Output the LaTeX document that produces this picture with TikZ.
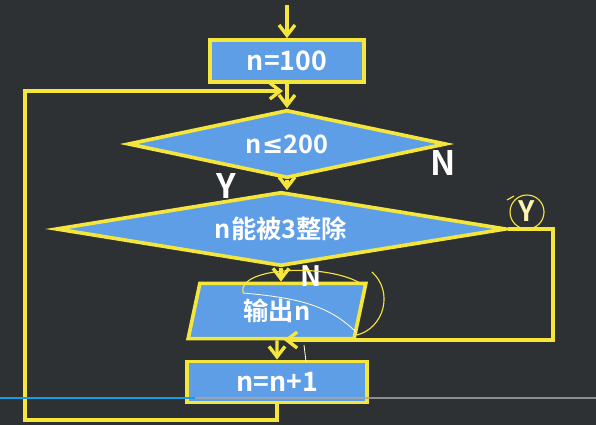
\documentclass[tikz,border=0pt]{standalone}
\usepackage{fontspec}
\setmainfont{Noto Sans CJK SC}[BoldFont={Noto Sans CJK SC Bold}]
\newfontfamily\mathsym{DejaVu Sans}
\usetikzlibrary{arrows.meta,shapes.geometric}
\definecolor{bgdark}{HTML}{2E3133}
\definecolor{boxblue}{HTML}{5E9EE6}
\definecolor{lineyellow}{HTML}{F5E63C}
\definecolor{barblue}{HTML}{1A9BE6}
\tikzset{
	flow/.style={line width=2.4pt, color=lineyellow, -{Straight Barb[length=2.6mm,width=4mm]}},
	procbox/.style={draw=lineyellow, line width=2.6pt, fill=boxblue, text=white, inner sep=0pt, font=\bfseries\fontsize{19}{22}\selectfont, minimum width=3.85cm, minimum height=1.05cm},
	decbox/.style={diamond, draw=lineyellow, line width=2.6pt, fill=boxblue, text=white, inner sep=0pt, font=\bfseries\fontsize{18}{22}\selectfont},
	iobox/.style={trapezium, trapezium left angle=78, trapezium right angle=102, draw=lineyellow, line width=2.6pt, fill=boxblue, text=white, inner sep=0pt, font=\bfseries\fontsize{18}{22}\selectfont, minimum width=4.45cm, minimum height=1.07cm},
	lbl/.style={text=white, font=\bfseries\fontsize{24}{26}\selectfont},
	scribble/.style={line width=0.8pt, color=lineyellow}
}

\begin{document}
\begin{tikzpicture}[x=0.025cm, y=-0.025cm]
			%%%%% START %%%%%
			
			\useasboundingbox (0, 0) rectangle (596, 425);
			\fill[bgdark] (0, 0) rectangle (596, 425);
			
			\coordinate (top) at (287, 5);
			\node[procbox] (init) at (287, 61) {n=100};
			\node[decbox, aspect=4.7, minimum width=7.95cm, minimum height=1.7cm] (le200) at (287, 144) {n{\mathsym ≤}200};
			\node[decbox, aspect=6.2, minimum width=11.25cm, minimum height=1.85cm] (div3) at (281, 229) {n能被3整除};
			\node[iobox] (out) at (277, 311) {输出n};
			\node[procbox, minimum width=4.5cm, minimum height=1.03cm] (inc) at (277, 382) {n=n+1};
			
			\coordinate (merge) at (284, 340);
			\coordinate (back) at (25, 420);
			\coordinate (join) at (283, 91);
			
			\draw[flow] (top) -- (init.north);
			\draw[flow] (init.south) -- (le200.north);
			\draw[flow] (le200.south) -- (le200.south |- div3.north);
			\draw[flow] (div3.south) -- (div3.south |- out.north);
			\draw[flow] (out.south) -- (inc.north);
			\draw[flow] (div3.east) -- ++(45, 0) |- (merge);
			\draw[flow] (inc.south) |- (back) |- (join);
			
			\node[lbl] (nolbl) at (443, 163) {N};
			\node[lbl] (yeslbl) at (226, 186) {Y};
			\node[lbl, font=\bfseries\fontsize{20}{22}\selectfont] (nolbl2) at (311, 276) {N};
			\node[lbl, text=lineyellow!40!white, font=\bfseries\fontsize{20}{22}\selectfont] (yeslbl2) at (527, 211) {Y};
			
			% hand marks
			\draw[scribble] (527, 212) circle (17);
			\draw[scribble] (507, 200) -- (514, 196);
			\draw[scribble] (243, 293) .. controls (236, 266) and (335, 262) .. (366, 287);
			\draw[scribble] (372, 272) .. controls (394, 292) and (384, 328) .. (357, 335);
			\draw[line width=0.6pt, color=white!85!lineyellow] (243, 293) .. controls (300, 298) and (330, 306) .. (357, 333);
			\draw[line width=0.6pt, color=white!80!lineyellow] (304, 345) -- (306, 362);
			
			% player bar
			\draw[line width=1.8pt, color=barblue] (0, 398) -- (195, 398);
			\draw[line width=1.4pt, color=gray!70, opacity=0.8] (195, 398) -- (596, 398);
			
			%%%%% END %%%%%
\end{tikzpicture}
\end{document}
